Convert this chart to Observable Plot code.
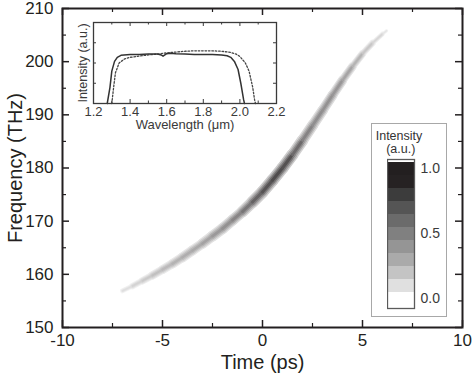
<!DOCTYPE html>
<html><head><meta charset="utf-8">
<script src="https://cdn.jsdelivr.net/npm/d3@7"></script>
<script src="https://cdn.jsdelivr.net/npm/@observablehq/plot@0.6"></script>
<style>
body{margin:0;background:#fff;}
#fig{position:relative;width:474px;height:375px;overflow:hidden;font-family:"Liberation Sans",Arial,sans-serif;color:#231f20;background:#fff;}
#legendBox{position:absolute;left:371px;top:123px;width:74px;height:192px;border:1px solid #a8a8a8;background:#fff;}
.lt{position:absolute;font-size:12.5px;text-align:center;width:62px;line-height:13px;color:#333;}
</style></head><body><div id="fig"><div id="legendBox"></div></div>
<script>
// ---- main spectrogram ridge ----
const timePs = [-7.0,-6.5,-6.0,-5.5,-5.0,-4.5,-4.0,-3.5,-3.0,-2.5,-2.0,-1.5,-1.0,-0.5,0.0,0.5,1.0,1.5,2.0,2.5,3.0,3.5,4.0,4.5,5.0,5.5,6.0,6.2];
const freqTHz = [156.9,157.8,158.8,159.8,160.9,162.0,163.2,164.5,165.8,167.2,168.6,170.2,171.8,173.6,175.5,177.7,180.0,182.5,185.2,188.0,190.8,193.7,196.5,199.1,201.5,203.5,205.2,205.8];
const streakIntensity = [0.12,0.18,0.22,0.27,0.30,0.33,0.36,0.38,0.40,0.44,0.48,0.52,0.58,0.66,0.75,0.80,0.82,0.75,0.60,0.52,0.50,0.50,0.45,0.38,0.30,0.22,0.15,0.10];
const streakWidth = [4,6,7,8,9,9,10,10,10,11,11,11,11,12,12,12,12,12,11,11,10,10,9,8,7,6,4,3];

const xTickValues = [-10,-5,0,5,10];
const xTickLabels = ["-10","-5","0","5","10"];
const xMinorTicks = [-7.5,-2.5,2.5,7.5];
const yTickValues = [150,160,170,180,190,200,210];
const yTickLabels = ["150","160","170","180","190","200","210"];
const yMinorTicks = [155,165,175,185,195,205];

// ---- inset spectra ----
const wlSolid = [1.275,1.29,1.30,1.315,1.33,1.35,1.40,1.45,1.50,1.55,1.57,1.58,1.59,1.60,1.62,1.65,1.70,1.75,1.80,1.85,1.90,1.93,1.95,1.97,1.99,2.005,2.02,2.025];
const intSolid = [0.0,0.2,0.4,0.52,0.57,0.595,0.605,0.605,0.61,0.61,0.60,0.585,0.60,0.615,0.62,0.615,0.61,0.605,0.605,0.605,0.60,0.59,0.57,0.52,0.42,0.25,0.05,0.0];
const wlDotted = [1.30,1.31,1.32,1.34,1.37,1.40,1.45,1.50,1.55,1.60,1.65,1.70,1.75,1.80,1.85,1.90,1.95,1.98,2.00,2.03,2.05,2.07,2.08,2.085];
const intDotted = [0.0,0.2,0.38,0.5,0.55,0.57,0.585,0.60,0.61,0.625,0.635,0.645,0.65,0.65,0.65,0.645,0.63,0.61,0.58,0.5,0.4,0.2,0.05,0.0];
const insetXTicks = [1.2,1.4,1.6,1.8,2.0,2.2];
const insetXLabels = ["1.2","1.4","1.6","1.8","2.0","2.2"];
const insetXMinor = [1.3,1.5,1.7,1.9,2.1];
const insetYTicks = [0.25,0.5,0.75];

// ---- colour legend ----
const legendValues = [0,0.1,0.2,0.3,0.4,0.5,0.6,0.7,0.8,0.9,1];
const legendColors = ["#ffffff","#e0e0e0","#c4c4c4","#aaaaaa","#959595","#808080","#6b6b6b","#555555","#3c3c3c","#262223","#231f20"];
const legendTickValues = [0,0.5,1];
const legendTickLabels = ["0.0","0.5","1.0"];

const ink = "#231f20";
const fig = document.getElementById("fig");
function place(el, left, top){ el.style.position="absolute"; el.style.left=left+"px"; el.style.top=top+"px"; fig.appendChild(el); return el; }

// segments along ridge
const segs = d3.range(timePs.length-1).map(i=>({
  x1:timePs[i], y1:freqTHz[i], x2:timePs[i+1], y2:freqTHz[i+1],
  v:(streakIntensity[i]+streakIntensity[i+1])/2, w:(streakWidth[i]+streakWidth[i+1])/2
}));
const layers = [{k:0.3,s:1.0},{k:0.55,s:0.75},{k:0.8,s:0.5},{k:1,s:0.25}];

const W = 474, H = 375, mL = 62, mR = 12, mT = 8, mB = 48;
const pw = W-mL-mR, ph = H-mT-mB;
const main = Plot.plot({
  width: W, height: H, marginLeft: mL, marginRight: mR, marginTop: mT, marginBottom: mB,
  x: {domain:[-10,10], axis:null},
  y: {domain:[150,210], axis:null},
  color: {type:"linear", domain:[0,1], range:["#ffffff","#262223"]},
  style: {background:"transparent", fontFamily:'"Liberation Sans",Arial,sans-serif', color:ink},
  marks: [
    ...layers.map(L => Plot.link(segs, {x1:"x1", y1:"y1", x2:"x2", y2:"y2",
        stroke: d=>d.v*L.k, strokeWidth: d=>d.w*L.s, strokeLinecap:"round"})),
    Plot.frame({stroke: ink, strokeWidth: 2}),
    Plot.ruleX(xTickValues, {x:d=>d, insetTop: ph-7, stroke: ink, strokeWidth:1.5}),
    Plot.ruleX(xTickValues, {x:d=>d, insetBottom: ph-7, stroke: ink, strokeWidth:1.5}),
    Plot.ruleX(xMinorTicks, {x:d=>d, insetTop: ph-4, stroke: ink, strokeWidth:1.2}),
    Plot.ruleX(xMinorTicks, {x:d=>d, insetBottom: ph-4, stroke: ink, strokeWidth:1.2}),
    Plot.ruleY(yTickValues, {y:d=>d, insetRight: pw-7, stroke: ink, strokeWidth:1.5}),
    Plot.ruleY(yTickValues, {y:d=>d, insetLeft: pw-7, stroke: ink, strokeWidth:1.5}),
    Plot.ruleY(yMinorTicks, {y:d=>d, insetRight: pw-4, stroke: ink, strokeWidth:1.2}),
    Plot.ruleY(yMinorTicks, {y:d=>d, insetLeft: pw-4, stroke: ink, strokeWidth:1.2}),
    Plot.text(xTickValues, {x:d=>d, text:(d,i)=>xTickLabels[i], frameAnchor:"bottom", dy:13, fontSize:17, fill:ink, lineAnchor:"middle"}),
    Plot.text(yTickValues, {y:d=>d, text:(d,i)=>yTickLabels[i], frameAnchor:"left", dx:-9, textAnchor:"end", fontSize:17, fill:ink}),
    Plot.text(["Time (ps)"], {text:d=>d, frameAnchor:"bottom", dy:35, fontSize:20, fill:ink, lineAnchor:"middle"}),
    Plot.text(["Frequency (THz)"], {text:d=>d, frameAnchor:"left", dx:-47, rotate:-90, textAnchor:"middle", lineAnchor:"middle", fontSize:20, fill:ink})
  ]
});
place(main, 0, 0);

// inset
const iW = 213, iH = 116, iL = 20, iR = 10, iT = 5, iB = 30;
const ipw = iW-iL-iR, iph = iH-iT-iB;
const insetInk = "#3a3a3a";
const inset = Plot.plot({
  width: iW, height: iH, marginLeft: iL, marginRight: iR, marginTop: iT, marginBottom: iB,
  x: {domain:[1.2,2.2], axis:null},
  y: {domain:[0,1], axis:null},
  style: {background:"transparent", fontFamily:'"Liberation Sans",Arial,sans-serif', color:insetInk},
  marks: [
    Plot.line(wlDotted, {x:d=>d, y:(d,i)=>intDotted[i], stroke:"#444", strokeWidth:1.3, strokeDasharray:"1.6,1.8"}),
    Plot.line(wlSolid, {x:d=>d, y:(d,i)=>intSolid[i], stroke:"#333", strokeWidth:1.5}),
    Plot.frame({stroke: insetInk, strokeWidth: 1.3}),
    Plot.ruleX(insetXTicks, {x:d=>d, insetTop: iph-4, stroke: insetInk}),
    Plot.ruleX(insetXTicks, {x:d=>d, insetBottom: iph-4, stroke: insetInk}),
    Plot.ruleX(insetXMinor, {x:d=>d, insetTop: iph-2.5, stroke: insetInk}),
    Plot.ruleX(insetXMinor, {x:d=>d, insetBottom: iph-2.5, stroke: insetInk}),
    Plot.ruleY(insetYTicks, {y:d=>d, insetRight: ipw-3, stroke: insetInk}),
    Plot.ruleY(insetYTicks, {y:d=>d, insetLeft: ipw-3, stroke: insetInk}),
    Plot.text(insetXTicks, {x:d=>d, text:(d,i)=>insetXLabels[i], frameAnchor:"bottom", dy:8, fontSize:13, fill:insetInk, lineAnchor:"middle"}),
    Plot.text(["Wavelength (\u03bcm)"], {text:d=>d, frameAnchor:"bottom", dy:21.5, fontSize:13, fill:insetInk, lineAnchor:"middle"}),
    Plot.text(["Intensity (a.u.)"], {text:d=>d, frameAnchor:"left", dx:-11, rotate:-90, textAnchor:"middle", lineAnchor:"middle", fontSize:12.5, fill:insetInk})
  ]
});
place(inset, 73, 17);

// legend title (two lines in one text block)
const t1 = document.createElement("div"); t1.className="lt"; t1.innerHTML="Intensity<br>&nbsp;(a.u.)"; place(t1, 368, 130);

// colour bar
const bar = Plot.plot({
  width: 60, height: 160, marginLeft: 0, marginRight: 33, marginTop: 5, marginBottom: 6,
  x: {axis:null},
  y: {type:"band", domain: legendValues.slice().reverse(), padding:0, axis:null},
  color: {type:"identity"},
  style: {background:"transparent", fontFamily:'"Liberation Sans",Arial,sans-serif', color:"#444"},
  marks: [
    Plot.cell(legendValues, {y:d=>d, fill:(d,i)=>legendColors[i]}),
    Plot.frame({stroke:"#5a5a5a", strokeWidth:1.3}),
    Plot.text(legendTickValues, {y:d=>d, text:(d,i)=>legendTickLabels[i], frameAnchor:"right", dx:6, textAnchor:"start", fontSize:14, fill:"#3a3a3a"})
  ]
});
place(bar, 387, 154);
</script></body></html>
